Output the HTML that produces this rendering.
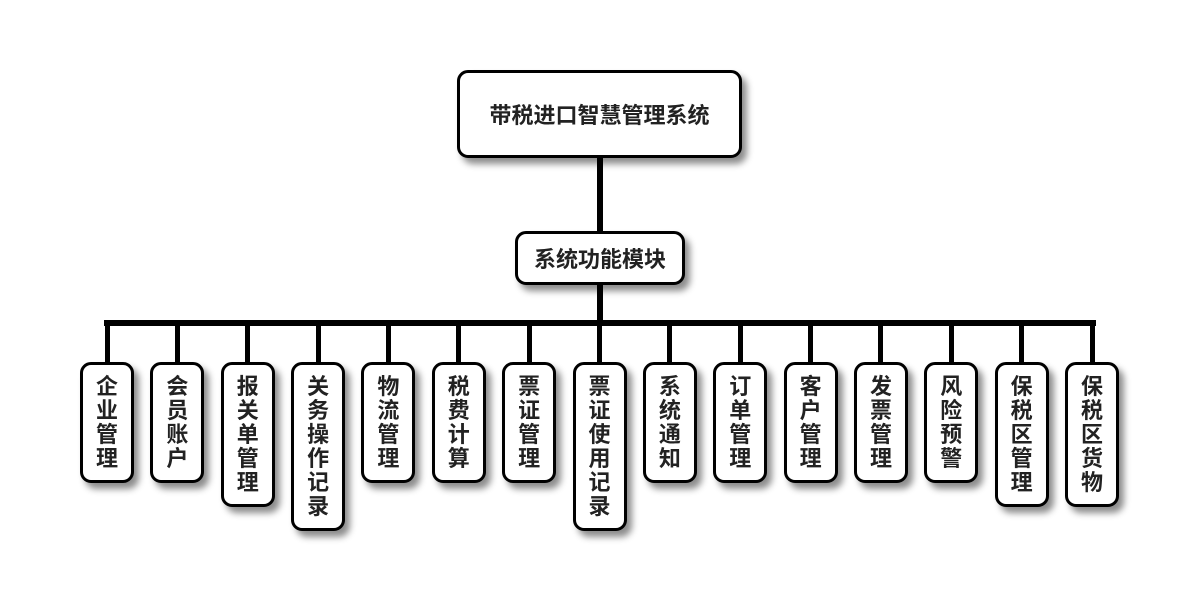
<!DOCTYPE html>
<html><head><meta charset="utf-8">
<style>
body{margin:0;width:1198px;height:607px;background:#fff;position:relative;overflow:hidden;font-family:"Liberation Sans","Noto Sans CJK SC",sans-serif;}
.b{position:absolute;box-sizing:border-box;border:3px solid #000;border-radius:11px;background:#fff;box-shadow:5px 6px 7px rgba(0,0,0,0.45);color:#222;font-weight:bold;display:flex;align-items:center;justify-content:center;}
.v{width:54px;top:362px;font-size:22px;line-height:24px;flex-direction:column;justify-content:flex-start;padding-top:10px;text-align:center;}
.l{position:absolute;background:#000;}
</style></head><body>
<div class="l" style="left:597px;top:156px;width:6px;height:170px"></div>
<div class="l" style="left:104px;top:320px;width:992px;height:6px"></div>
<div class="b" style="left:457px;top:70px;width:285px;height:88px;font-size:22px">带税进口智慧管理系统</div>
<div class="b" style="left:515px;top:231px;width:170px;height:54px;font-size:22px">系统功能模块</div>
<div id="c"></div>
<script>
var t=["企业管理","会员账户","报关单管理","关务操作记录","物流管理","税费计算","票证管理","票证使用记录","系统通知","订单管理","客户管理","发票管理","风险预警","保税区管理","保税区货物"];
var h="";
for(var i=0;i<t.length;i++){
 var cx=107+i*70.36;
 h+='<div class="l" style="left:'+(cx-2.5)+'px;top:322px;width:5px;height:42px"></div>';
 var ht=24*t[i].length+25;
 h+='<div class="b v" style="left:'+(cx-27)+'px;height:'+ht+'px">'+t[i].split("").join("<br>")+'</div>';
}
document.getElementById("c").innerHTML=h;
</script>
</body></html>
